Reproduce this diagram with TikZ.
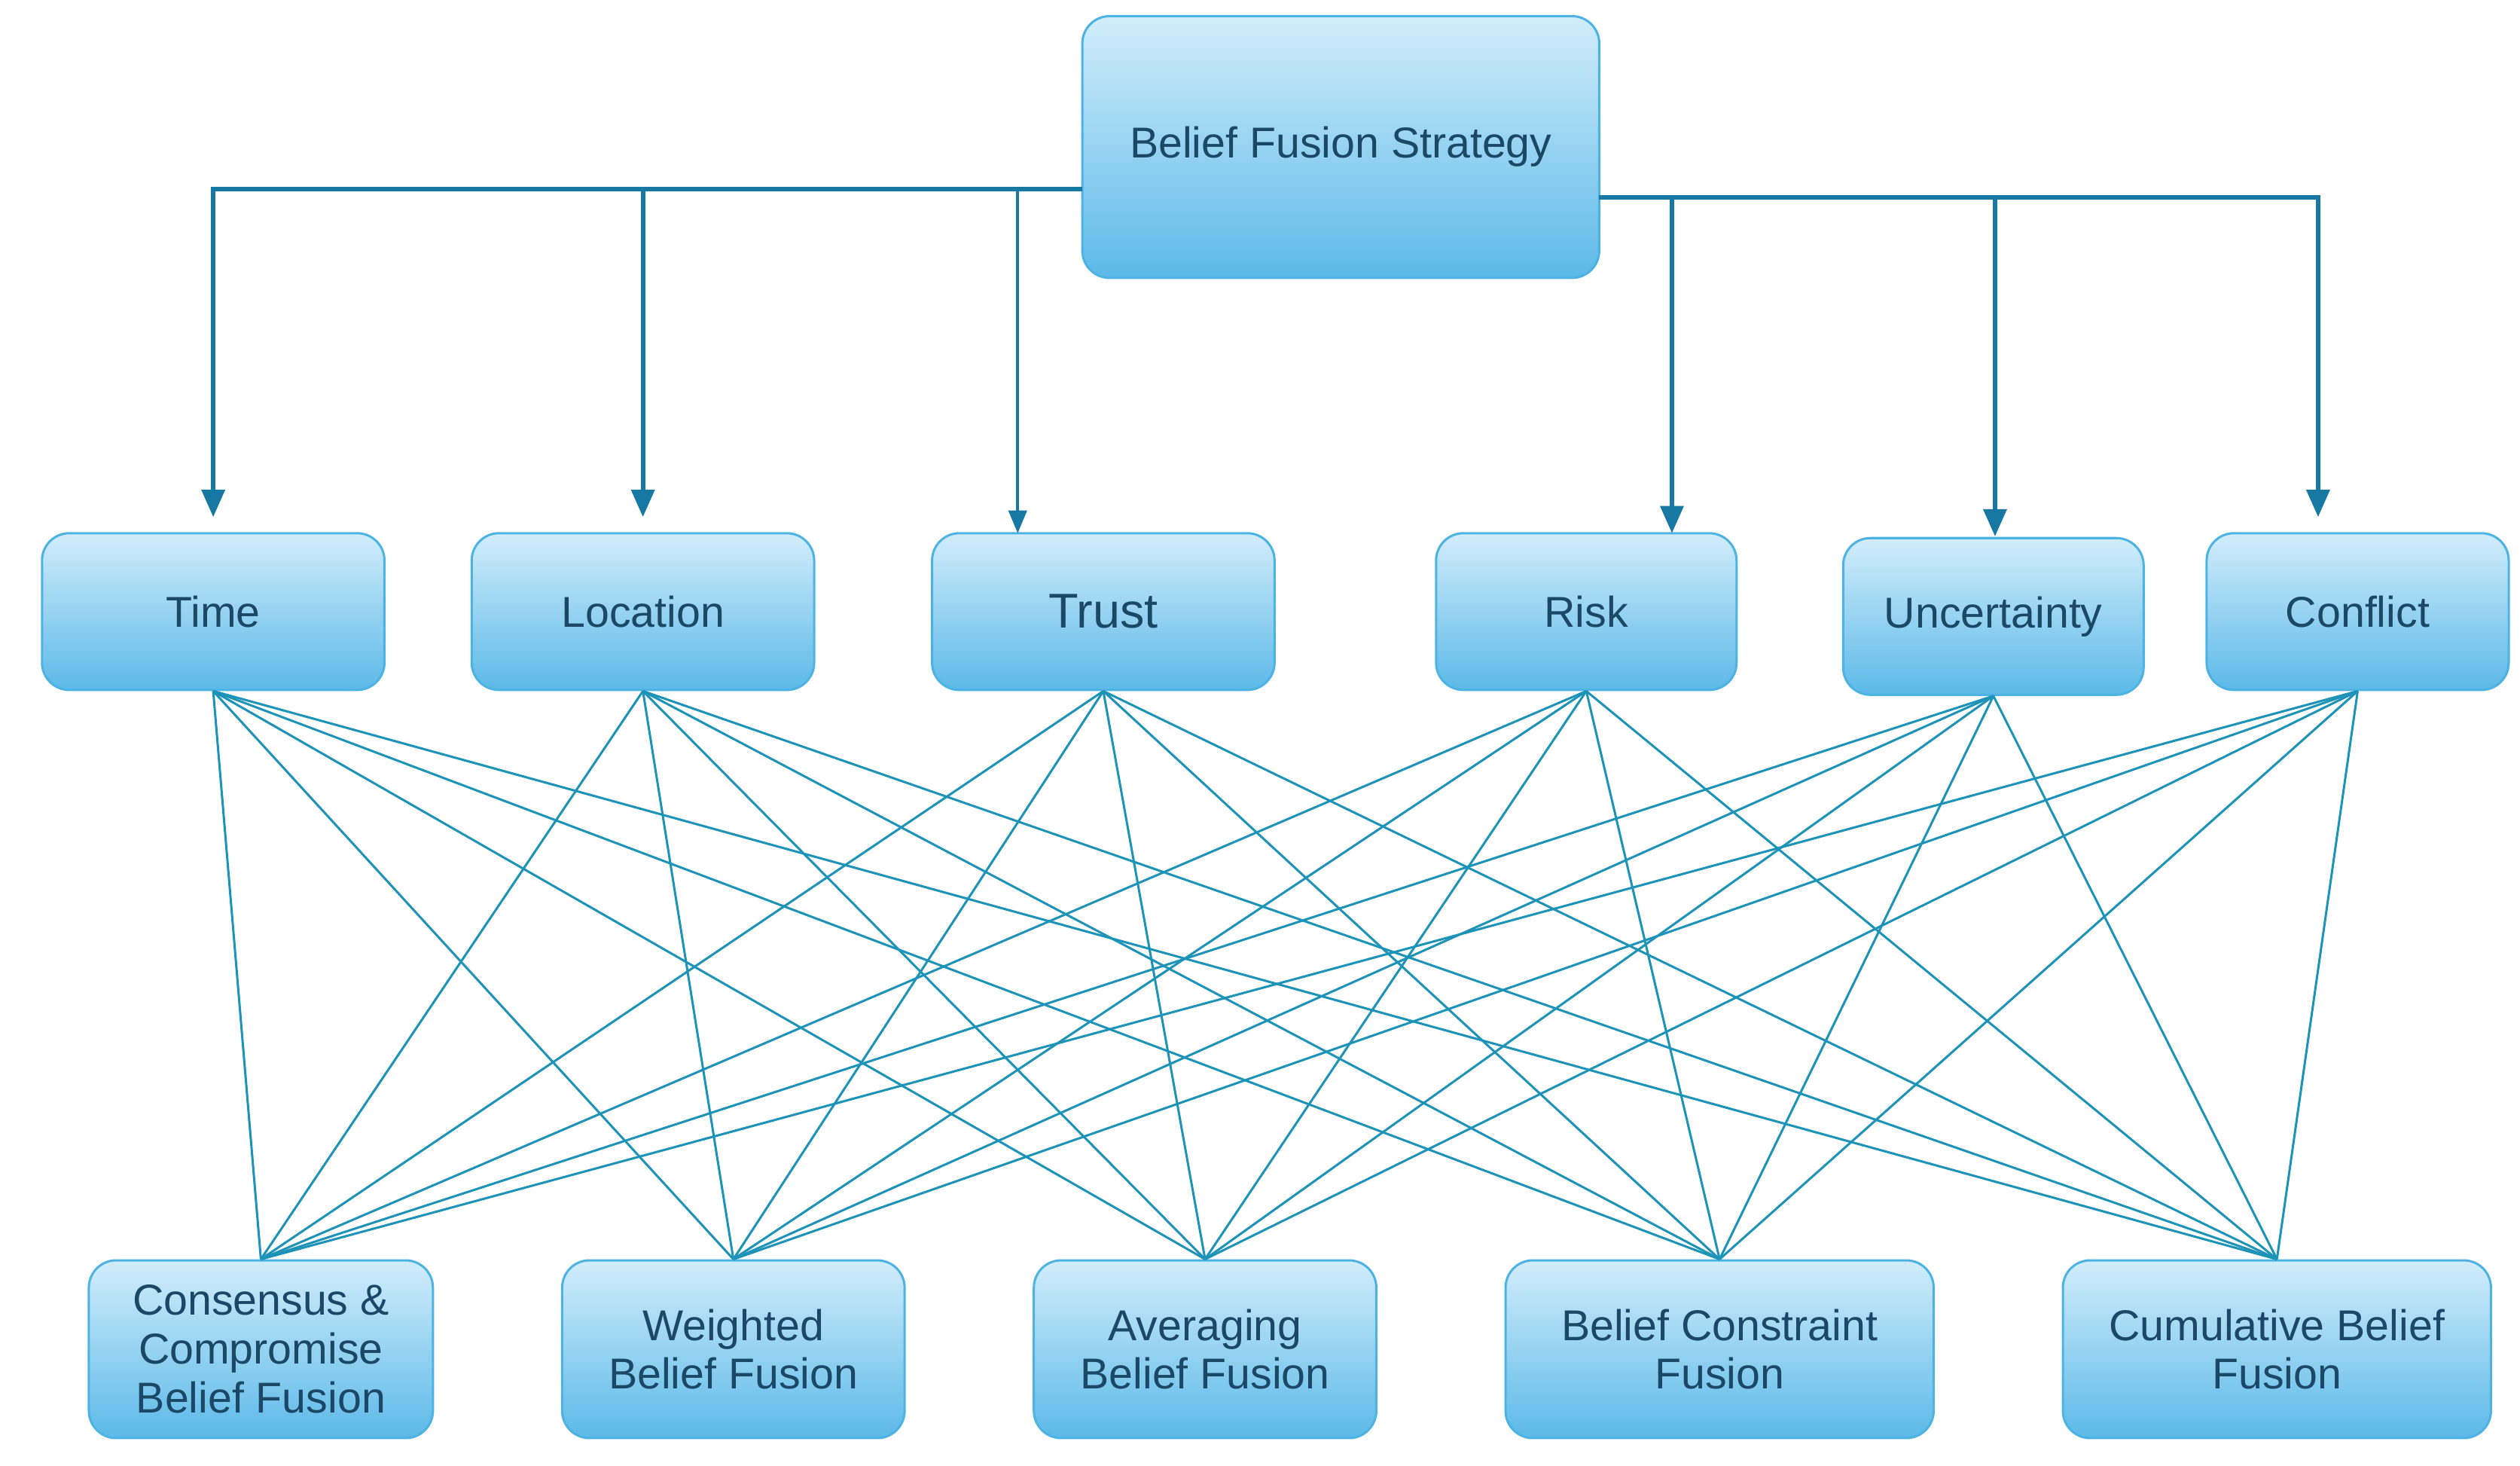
\documentclass[tikz,border=0pt]{standalone}
\usepackage{fontspec}
\setmainfont{Liberation Sans}
\usetikzlibrary{arrows.meta}
\definecolor{bd}{HTML}{4DB3E3}
\definecolor{ln}{HTML}{1E93B8}
\definecolor{ar}{HTML}{1779A3}
\definecolor{tx}{HTML}{1B4866}
\definecolor{gt}{HTML}{D2EDFB}
\definecolor{gb}{HTML}{5CB9E8}
\begin{document}
\begin{tikzpicture}[x=0.05cm,y=-0.05cm,
  box/.style={draw=bd,line width=2pt,rounded corners=24pt,top color=gt,bottom color=gb,
    inner sep=0pt,text=tx,font=\fontsize{38}{43}\selectfont,align=center},
  arr/.style={draw=ar,line width=4pt,-{Triangle[length=24pt,width=20pt]}},
  cn/.style={draw=ln,line width=2pt}]
\useasboundingbox (0,0) rectangle (1560,907);
\newcommand\bx[6]{\node[box,minimum width={(#3-#2)*0.05cm},minimum height={(#5-#4)*0.05cm}] (#1) at ({(#2+#3)/2},{(#4+#5)/2}) {#6};}
\bx{top}{670}{990}{10}{172}{Belief Fusion Strategy}
\bx{time}{26}{238}{330}{427}{Time}
\bx{loc}{292}{504}{330}{427}{Location}
\bx{trust}{577}{789}{330}{427}{\fontsize{43}{48}\selectfont Trust}
\bx{risk}{889}{1075}{330}{427}{Risk}
\bx{unc}{1141}{1327}{333}{430}{Uncertainty}
\bx{con}{1366}{1553}{330}{427}{Conflict}
\bx{b1}{55}{268}{780}{890}{Consensus \&\\Compromise\\Belief Fusion}
\bx{b2}{348}{560}{780}{890}{Weighted\\Belief Fusion}
\bx{b3}{640}{852}{780}{890}{Averaging\\Belief Fusion}
\bx{b4}{932}{1197}{780}{890}{Belief Constraint\\Fusion}
\bx{b5}{1277}{1542}{780}{890}{Cumulative Belief\\Fusion}
\coordinate (tl) at (670,117);
\coordinate (tr) at (990,122);
\draw[draw=ar,line width=4pt] (tl) -| (132,300);
\draw[arr] (132,117) -- (132,320);
\draw[arr] (398,117) -- (398,320);
\draw[arr,line width=2.5pt,-{Triangle[length=20pt,width=16pt]}] (630,117) -- (630,330);
\draw[draw=ar,line width=4pt] (tr) -| (1435,300);
\draw[arr] (1035,122) -- (1035,330);
\draw[arr] (1235,122) -- (1235,332);
\draw[arr] (1435,122) -- (1435,320);
\foreach \m in {time,loc,trust,risk,unc,con}
  \foreach \b in {b1,b2,b3,b4,b5}
    \draw[cn] (\m.south) -- (\b.north);
\end{tikzpicture}
\end{document}
